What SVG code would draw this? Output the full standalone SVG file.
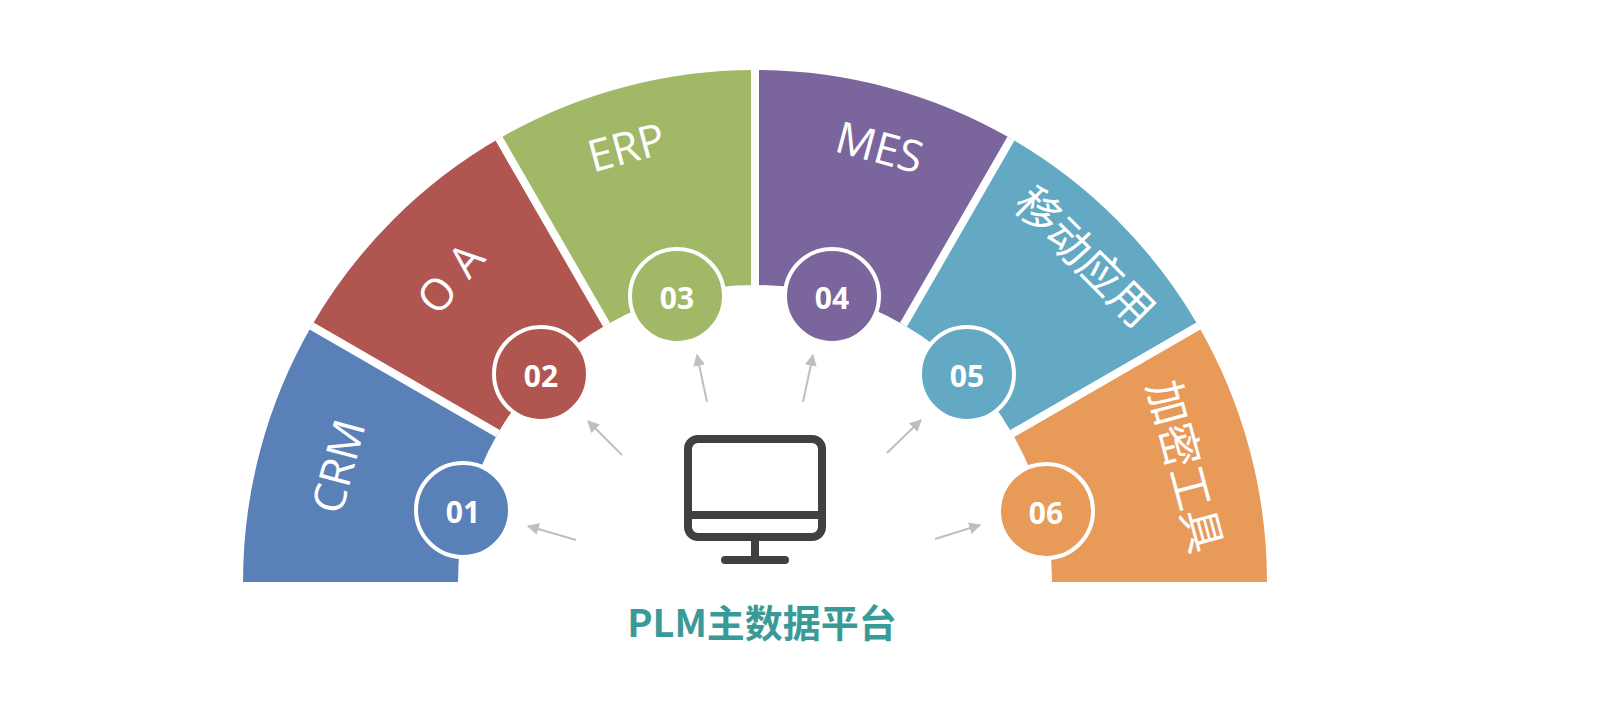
<svg xmlns="http://www.w3.org/2000/svg" width="1604" height="710" viewBox="0 0 1604 710">
<style>
.seg-t{font-family:"Open Sans","Noto Sans CJK SC",sans-serif;font-size:44px;fill:#fff;text-anchor:middle;dominant-baseline:central}
.num{font-family:"Open Sans",sans-serif;font-weight:bold;font-size:30px;fill:#fff;text-anchor:middle;dominant-baseline:central}
.gap{stroke:#fff;stroke-width:8}
.circ{stroke:#fff;stroke-width:4}
.arr{stroke:#bfbfbf;stroke-width:2;fill:none;marker-end:url(#ah)}
</style>
<defs>
<marker id="ah" viewBox="0 0 10 10" refX="9" refY="5" markerWidth="6" markerHeight="6" orient="auto"><path d="M0,0 L10,5 L0,10 Z" fill="#bfbfbf"/></marker>
</defs>
<rect width="1604" height="710" fill="#fff"/>
<g id="crm">
<path d="M311.6,326 A512,512 0 0 0 243,582 L458,582 A297,297 0 0 1 497.8,433.5 Z" fill="#5a80b8"/>
<text class="seg-t" transform="translate(337,466) rotate(-75)">CRM</text>
</g>
<g id="oa">
<path d="M499,138.6 A512,512 0 0 0 311.6,326 L497.8,433.5 A297,297 0 0 1 606.5,324.8 Z" fill="#b0554f"/>
<text class="seg-t" transform="translate(454,272) rotate(-50)" letter-spacing="14">OA</text>
</g>
<g id="erp">
<path d="M755,70 A512,512 0 0 0 499,138.6 L606.5,324.8 A297,297 0 0 1 755,285 Z" fill="#a1b866"/>
<text class="seg-t" transform="translate(626,146) rotate(-15)">ERP</text>
</g>
<g id="mes">
<path d="M1011,138.6 A512,512 0 0 0 755,70 L755,285 A297,297 0 0 1 903.5,324.8 Z" fill="#7b659d"/>
<text class="seg-t" transform="translate(880,146) rotate(15)">MES</text>
</g>
<g id="mobile">
<path d="M1198.4,326 A512,512 0 0 0 1011,138.6 L903.5,324.8 A297,297 0 0 1 1012.2,433.5 Z" fill="#63a9c3"/>
<text class="seg-t" transform="translate(1086,256) rotate(45)">移动应用</text>
</g>
<g id="encrypt">
<path d="M1267,582 A512,512 0 0 0 1198.4,326 L1012.2,433.5 A297,297 0 0 1 1052,582 Z" fill="#e89a58"/>
<text class="seg-t" transform="translate(1186,466) rotate(75)">加密工具</text>
</g>
<g id="gaps">
<line class="gap" x1="311.6" y1="326" x2="497.8" y2="433.5"/>
<line class="gap" x1="499" y1="138.6" x2="606.5" y2="324.8"/>
<line class="gap" x1="755" y1="65" x2="755" y2="285"/>
<line class="gap" x1="1011" y1="138.6" x2="903.5" y2="324.8"/>
<line class="gap" x1="1198.4" y1="326" x2="1012.2" y2="433.5"/>
</g>
<g id="n01"><circle class="circ" cx="463" cy="510" r="47" fill="#5a80b8"/><text class="num" x="463" y="511">01</text></g>
<g id="n02"><circle class="circ" cx="541" cy="374" r="47" fill="#b0554f"/><text class="num" x="541" y="375">02</text></g>
<g id="n03"><circle class="circ" cx="677" cy="296" r="47" fill="#a1b866"/><text class="num" x="677" y="297">03</text></g>
<g id="n04"><circle class="circ" cx="832" cy="296" r="47" fill="#7b659d"/><text class="num" x="832" y="297">04</text></g>
<g id="n05"><circle class="circ" cx="967" cy="374" r="47" fill="#63a9c3"/><text class="num" x="967" y="375">05</text></g>
<g id="n06"><circle class="circ" cx="1046" cy="511" r="47" fill="#e89a58"/><text class="num" x="1046" y="512">06</text></g>
<g id="monitor" fill="none" stroke="#404040" stroke-width="8" stroke-linecap="round">
<rect x="688" y="439" width="134" height="98" rx="10"/>
<line x1="688" y1="515" x2="822" y2="515"/>
<line x1="755" y1="537" x2="755" y2="558"/>
<line x1="725" y1="560" x2="785" y2="560"/>
</g>
<g id="connectors">
<line class="arr" x1="576" y1="540" x2="528" y2="526"/>
<line class="arr" x1="622" y1="455" x2="588" y2="421"/>
<line class="arr" x1="707" y1="402" x2="697" y2="355"/>
<line class="arr" x1="803" y1="402" x2="813" y2="355"/>
<line class="arr" x1="887" y1="453" x2="921" y2="420"/>
<line class="arr" x1="935" y1="539" x2="980" y2="525"/>
</g>
<text x="762" y="620" font-family="'Noto Sans CJK SC',sans-serif" font-weight="bold" font-size="38" fill="#3a9a98" text-anchor="middle" dominant-baseline="central">PLM主数据平台</text>
</svg>
